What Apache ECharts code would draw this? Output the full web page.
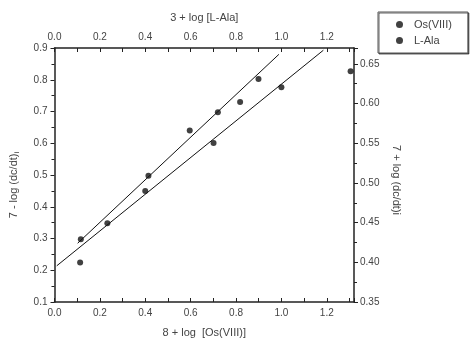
<!DOCTYPE html>
<html><head><meta charset="utf-8">
<script src="https://cdn.jsdelivr.net/npm/echarts@6/dist/echarts.min.js"></script>
<style>html,body{margin:0;padding:0;background:#fff}#c{width:474px;height:350px}</style>
</head><body><div id="c"></div>
<script>
// Os(VIII): bottom x-axis (8 + log [Os(VIII)]) vs left y-axis (7 - log (dc/dt)i)
const osX = [0.113, 0.233, 0.400, 0.701, 1.000, 1.305];
const osY = [0.2245, 0.348, 0.450, 0.601, 0.776, 0.827];
// L-Ala: top x-axis (3 + log [L-Ala]) vs right y-axis (7 + log (dc/dt)i)
const alaX = [0.116, 0.414, 0.596, 0.720, 0.818, 0.899];
const alaY = [0.429, 0.509, 0.566, 0.589, 0.602, 0.631];
// fitted straight lines (end points)
const osFitX = [0.01, 1.185];
const osFitY = [0.214, 0.893];
const alaFitX = [0.102, 0.989];
const alaFitY = [0.424, 0.662];
// axis ranges
const xRange = [0, 1.32];
const leftRange = [0.1, 0.9];
const rightRange = [0.35, 0.67];

const zip = (a, b) => a.map((v, i) => [v, b[i]]);
const txt = '#444';
const lineCol = '#222';
const font = 'Liberation Sans';

const xCommon = (pos, name) => ({
  type: 'value', position: pos, min: xRange[0], max: xRange[1], interval: 0.2,
  name: name, nameLocation: 'middle', nameGap: 25,
  nameTextStyle: { color: txt, fontSize: 11, fontFamily: font },
  axisLine: { show: true, onZero: false, lineStyle: { color: lineCol, width: 1.5 } },
  axisTick: { show: true, inside: true, length: 4, lineStyle: { color: lineCol } },
  minorTick: { show: true, splitNumber: 2, length: 4, lineStyle: { color: lineCol } },
  axisLabel: { color: txt, fontSize: 10, fontFamily: font, margin: 6, showMaxLabel: false,
    formatter: v => v.toFixed(1) },
  splitLine: { show: false }
});

const chart = echarts.init(document.getElementById('c'));
chart.setOption({
  animation: false,
  backgroundColor: '#fff',
  grid: { left: 52, right: 120, top: 48, bottom: 48 },
  legend: {
    orient: 'vertical', left: 378, top: 12, itemGap: 5,
    padding: [7, 16, 7, 18],
    borderColor: '#555', borderWidth: 1, borderRadius: 0,
    shadowColor: 'rgba(0,0,0,0.6)', shadowOffsetX: 1, shadowOffsetY: 1, shadowBlur: 0,
    backgroundColor: '#fff',
    itemWidth: 7, itemHeight: 7, icon: 'circle',
    textStyle: { color: txt, fontSize: 11, fontFamily: font, padding: [0, 0, 0, 6] },
    data: ['Os(VIII)', 'L-Ala']
  },
  xAxis: [
    xCommon('bottom', '8 + log  [Os(VIII)]'),
    xCommon('top', '3 + log [L-Ala]')
  ],
  yAxis: [
    {
      type: 'value', position: 'left', min: leftRange[0], max: leftRange[1], interval: 0.1,
      name: '{a|7 - log (dc/dt)}{s|i}', nameLocation: 'middle', nameGap: 34,
      nameTextStyle: { color: txt, fontSize: 11, fontFamily: font, padding: [0, 20, 0, 0],
        rich: { a: { color: txt, fontSize: 11, fontFamily: font }, s: { color: txt, fontSize: 8, fontFamily: font, verticalAlign: 'bottom', padding: [6, 0, 0, 0] } } },
      axisLine: { show: true, onZero: false, lineStyle: { color: lineCol, width: 1.5 } },
      axisTick: { show: true, inside: false, length: 4, lineStyle: { color: lineCol } },
      minorTick: { show: true, splitNumber: 2, length: 3, lineStyle: { color: lineCol } },
      axisLabel: { color: txt, fontSize: 10, fontFamily: font, margin: 7, formatter: v => v.toFixed(1) },
      splitLine: { show: false }
    },
    {
      type: 'value', position: 'right', min: rightRange[0], max: rightRange[1], interval: 0.05,
      name: '7 + log (dc/dt)i', nameLocation: 'middle', nameGap: 34, nameRotate: -90,
      nameTextStyle: { color: txt, fontSize: 11, fontFamily: font, padding: [0, 0, 0, 10] },
      axisLine: { show: true, onZero: false, lineStyle: { color: lineCol, width: 1.5 } },
      axisTick: { show: true, inside: false, length: 4, lineStyle: { color: lineCol } },
      minorTick: { show: true, splitNumber: 2, length: 3, lineStyle: { color: lineCol } },
      axisLabel: { color: txt, fontSize: 10, fontFamily: font, margin: 6, showMaxLabel: false,
        formatter: v => v.toFixed(2) },
      splitLine: { show: false }
    }
  ],
  series: [
    { name: 'Os(VIII)', type: 'scatter', xAxisIndex: 0, yAxisIndex: 0, data: zip(osX, osY),
      symbol: 'circle', symbolSize: 6, itemStyle: { color: '#111' } },
    { name: 'L-Ala', type: 'scatter', xAxisIndex: 1, yAxisIndex: 1, data: zip(alaX, alaY),
      symbol: 'circle', symbolSize: 6, itemStyle: { color: '#111' } },
    { name: 'Os fit', type: 'line', xAxisIndex: 0, yAxisIndex: 0, data: zip(osFitX, osFitY),
      showSymbol: false, symbol: 'none', lineStyle: { color: '#111', width: 1 } },
    { name: 'Ala fit', type: 'line', xAxisIndex: 1, yAxisIndex: 1, data: zip(alaFitX, alaFitY),
      showSymbol: false, symbol: 'none', lineStyle: { color: '#111', width: 1 } }
  ]
});
</script></body></html>
